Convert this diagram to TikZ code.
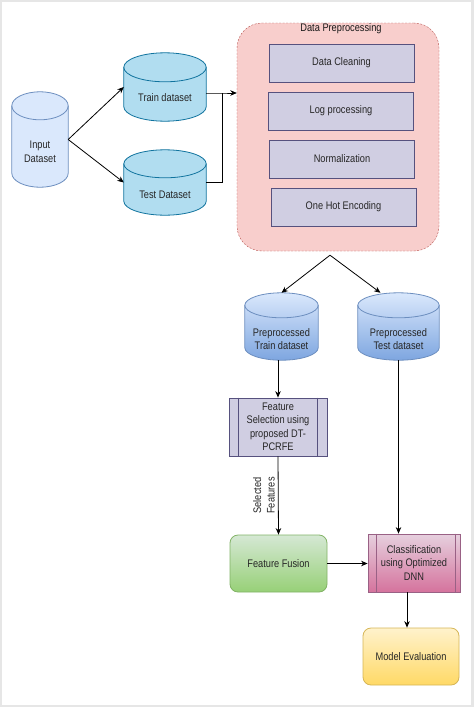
\documentclass[tikz,border=0pt]{standalone}
\usepackage{fontspec}
\setmainfont{Liberation Sans}[FakeStretch=0.84]
\usepackage{tikz}
\usetikzlibrary{positioning,arrows,arrows.meta,shapes.geometric,calc}
\definecolor{framegray}{HTML}{E6E6E6}
\definecolor{txt}{HTML}{262626}
\definecolor{inpfill}{HTML}{DAE8FC}
\definecolor{inpline}{HTML}{6C8EBF}
\definecolor{setfill}{HTML}{B1DDF0}
\definecolor{setline}{HTML}{10739E}
\definecolor{ppbottom}{HTML}{7EA6E0}
\definecolor{prepfill}{HTML}{F8CECC}
\definecolor{prepline}{HTML}{B85450}
\definecolor{stepfill}{HTML}{D0CEE2}
\definecolor{stepline}{HTML}{56517E}
\definecolor{fusetop}{HTML}{D5E8D4}
\definecolor{fusebottom}{HTML}{97D077}
\definecolor{fuseline}{HTML}{82B366}
\definecolor{clstop}{HTML}{E6D0DE}
\definecolor{clsbottom}{HTML}{D5739D}
\definecolor{clsline}{HTML}{996185}
\definecolor{evaltop}{HTML}{FFF2CC}
\definecolor{evalbottom}{HTML}{FFD966}
\definecolor{evalline}{HTML}{D6B656}
\tikzstyle{dbnode}    = [rectangle, inner sep=0pt]
\tikzstyle{stepbox}   = [rectangle, draw=stepline, fill=stepfill, minimum width=145pt, minimum height=38pt, line width=0.8pt]
\tikzstyle{roundbox}  = [rectangle, rounded corners=8pt, minimum width=97pt, minimum height=57pt, line width=0.8pt, align=center]
\tikzstyle{arrow}     = [->,>={Stealth[length=6.5pt,width=5.5pt]}, line width=0.8pt, black]
% cylinder outline round a named node: #1 node, #2 cap radius, #3 fill, #4 line colour
\newcommand{\dbdraw}[4]{%
	\path[#3, draw=#4, line width=0.8pt] let \p1 = ($(#1.east)-(#1.west)$) in
		([yshift=-#2]#1.north west) -- ([yshift=#2]#1.south west)
		arc[start angle=180, end angle=360, x radius=0.5*\x1, y radius=#2]
		-- ([yshift=-#2]#1.north east)
		arc[start angle=0, end angle=180, x radius=0.5*\x1, y radius=#2] -- cycle;
	\draw[#4, line width=0.8pt] let \p1 = ($(#1.east)-(#1.west)$) in
		([yshift=-#2]#1.north west) arc[start angle=180, end angle=360, x radius=0.5*\x1, y radius=#2];
}

\begin{document}
\begin{tikzpicture}[x=1pt, y=-1pt, every node/.style={font=\fontsize{11}{13.5}\selectfont, text=txt}]
		\fill[framegray] (0,0) rectangle (474,707);
		\fill[white] (2,2) rectangle (471,705);
		\useasboundingbox (0,0) rectangle (474,707);
		% data sets
		\node[dbnode, minimum width=56pt, minimum height=95pt] (input) at (40,139.5) {};
		\node[dbnode, minimum width=82pt, minimum height=68pt] (train) at (165,87) {};
		\node[dbnode, minimum width=82pt, minimum height=65pt] (test) at (165,182.5) {};
		\dbdraw{input}{14pt}{fill=inpfill}{inpline}
		\dbdraw{train}{14.5pt}{fill=setfill}{setline}
		\dbdraw{test}{14pt}{fill=setfill}{setline}
		\node[align=center] (inputText) at ([yshift=-12.5pt]input.center) {Input\\Dataset};
		\node (trainText) at ([yshift=-11pt]train.center) {Train dataset};
		\node (testText) at ([yshift=-12.5pt]test.center) {Test Dataset};
		% preprocessing block
		\node[rectangle, rounded corners=25pt, draw=prepline, fill=prepfill, dashed, dash pattern=on 2pt off 1.5pt,
			minimum width=202pt, minimum height=228pt] (prep) at (338,137) {};
		\node[text=black!90] (prepTitle) at (341,29) {Data Preprocessing};
		\node[stepbox] (clean) at (341.5,63) {Data Cleaning};
		\node[stepbox] (logp) at (341,111) {Log processing};
		\node[stepbox] (norm) at (342,159) {Normalization};
		\node[stepbox] (ohe) at (343.5,207) {One Hot Encoding};
		% preprocessed sets
		\node[dbnode, minimum width=73pt, minimum height=67pt] (ptrain) at (281.5,326.5) {};
		\node[dbnode, minimum width=81pt, minimum height=67pt] (ptest) at (398.5,326.5) {};
		\dbdraw{ptrain}{12.5pt}{top color=inpfill, bottom color=ppbottom}{inpline}
		\dbdraw{ptest}{12.5pt}{top color=inpfill, bottom color=ppbottom}{inpline}
		\node[align=center] (ptrainText) at ([yshift=-12.5pt]ptrain.center) {Preprocessed\\Train dataset};
		\node[align=center] (ptestText) at ([yshift=-12.5pt]ptest.center) {Preprocessed\\Test dataset};
		% model steps
		\node[stepbox, minimum width=98pt, minimum height=58pt, align=center] (fsel) at (278,427)
			{Feature\\Selection using\\proposed DT-\\PCRFE};
		\node[roundbox, top color=fusetop, bottom color=fusebottom, draw=fuseline] (fuse) at (278.5,563.5) {Feature Fusion};
		\node[rectangle, draw=clsline, top color=clstop, bottom color=clsbottom, line width=0.8pt,
			minimum width=92pt, minimum height=58pt, align=center] (cls) at (414,563)
			{Classification\\using Optimized\\DNN};
		\node[roundbox, minimum width=96pt, top color=evaltop, bottom color=evalbottom, draw=evalline] (eval) at (411,656.5) {Model Evaluation};
		\draw[stepline, line width=0.8pt] ([xshift=10pt]fsel.north west) -- ([xshift=10pt]fsel.south west);
		\draw[stepline, line width=0.8pt] ([xshift=-10pt]fsel.north east) -- ([xshift=-10pt]fsel.south east);
		\draw[clsline, line width=0.8pt] ([xshift=9pt]cls.north west) -- ([xshift=9pt]cls.south west);
		\draw[clsline, line width=0.8pt] ([xshift=-5pt]cls.north east) -- ([xshift=-5pt]cls.south east);
		% connectors
		\coordinate (join) at (222,93);
		\coordinate (split) at ([xshift=-8pt,yshift=-4pt]prep.south);
		\draw[arrow] (input.east) -- (train.west);
		\draw[arrow] (input.east) -- (test.west);
		\draw[line width=0.8pt] (test.east) -| (join);
		\draw[arrow] (train.east |- join) -- (join) -- (prep.west |- join);
		\draw[arrow] (split) -- (ptrain.north);
		\draw[arrow] (split) -- ([xshift=-18pt]ptest.north);
		\draw[arrow] (ptrain.south -| fsel.north) -- (fsel.north);
		\draw[arrow] (fsel.south) -- (fuse.north)
			node[midway, rotate=90, anchor=south, align=center, inner sep=3pt] (selLabel) {Selected\\Features};
		\draw[arrow] (fuse.east) -- (cls.west |- fuse.east);
		\draw[arrow] (ptest.south) -- (ptest.south |- cls.north);
		\draw[arrow] ([xshift=-7pt]cls.south) -- ([xshift=-7pt]cls.south |- eval.north);
	\end{tikzpicture}
\end{document}
